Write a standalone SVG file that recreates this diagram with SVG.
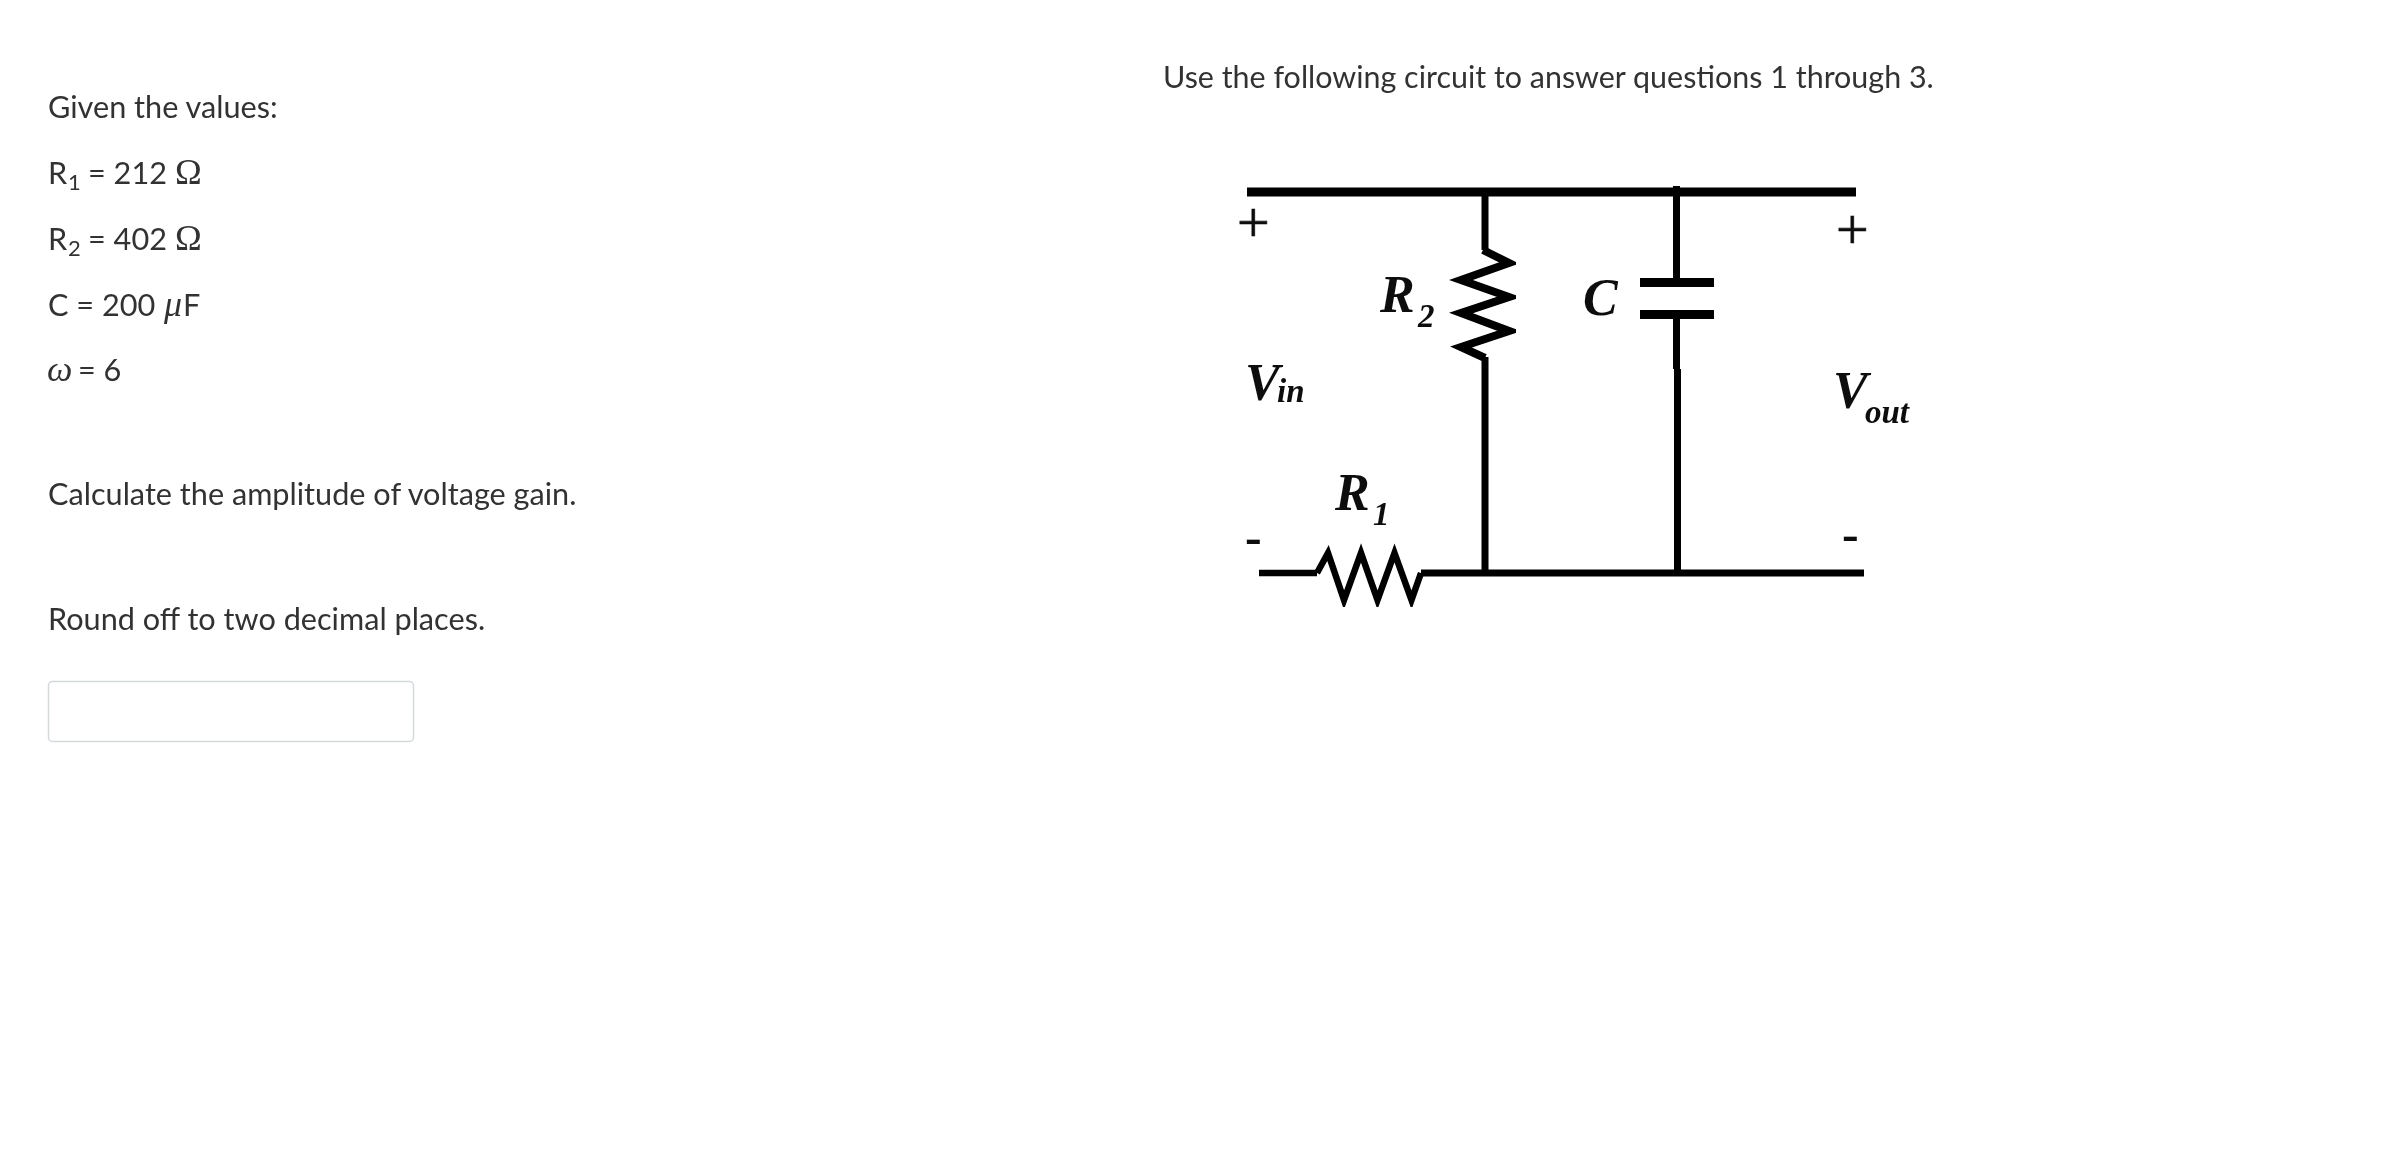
<svg xmlns="http://www.w3.org/2000/svg" width="2388" height="1155" viewBox="0 0 2388 1155">
<defs><filter id="soft" x="-5%" y="-5%" width="110%" height="110%"><feGaussianBlur stdDeviation="0.6"/></filter></defs>
<style>
.t{font-family:Lato,"Liberation Sans",sans-serif;font-size:30.65px;fill:#333}
.h{font-size:30.44px}
.s{font-family:Lato,"Liberation Sans",sans-serif;font-size:22px;fill:#333}
.m{font-family:"Liberation Serif",serif;font-size:36px;fill:#333}
.i{font-style:italic}
.w{fill:none;stroke:#000;stroke-linejoin:miter}
.l{font-family:"Liberation Serif",serif;font-style:italic;font-weight:bold;fill:#111}
.p{font-family:"Liberation Serif",serif;fill:#111}
g{filter:url(#soft)}
</style>
<rect width="2388" height="1155" fill="#fff"/>
<g id="given">
<text class="t" x="48" y="118">Given the values:</text>
<text class="t" x="48" y="184">R</text><text class="s" x="68" y="190">1</text><text class="t" x="88" y="184">= 212</text><text class="m" x="175" y="184">Ω</text>
<text class="t" x="48" y="250">R</text><text class="s" x="68" y="256">2</text><text class="t" x="88" y="250">= 402</text><text class="m" x="175" y="250">Ω</text>
<text class="t" x="48" y="316">C = 200</text><text class="m i" x="164" y="316">μ</text><text class="t" x="183" y="316">F</text>
<text class="m i" x="47" y="381">ω</text><text class="t" x="78" y="381">= 6</text>
<text class="t" x="48" y="505">Calculate the amplitude of voltage gain.</text>
<text class="t" x="48" y="630">Round off to two decimal places.</text>
</g>
<g id="answer-box"><rect x="48.500" y="681.500" width="365" height="60" rx="4" fill="#fff" stroke="#d5d9dc" stroke-width="1.500"/></g>
<g id="title"><text class="t h" x="1163" y="88">Use the following circuit to answer questions 1 through 3.</text></g>
<g id="connectors">
<path class="w" stroke-width="9" d="M1247 192H1856"/>
<path class="w" stroke-width="7" d="M1485 192V250"/>
<path class="w" stroke-width="7" d="M1485 357V573"/>
<path class="w" stroke-width="7" d="M1676.500 186V283"/>
<path class="w" stroke-width="7" d="M1676.500 314V369"/>
<path class="w" stroke-width="7" d="M1677.500 369V573"/>
<path class="w" stroke-width="7" d="M1421 573H1864"/>
<path class="w" stroke-width="6.500" d="M1259 573H1317"/>
</g>
<g id="R2"><path class="w" stroke-width="8" d="M1483 250L1509 263L1461 280L1509 297L1461 313L1509 331L1461 347L1485 358"/>
<text class="l" x="1380" y="312" font-size="52">R</text><text class="l" x="1418" y="327" font-size="33">2</text></g>
<g id="C"><rect x="1640" y="278" width="74" height="9" fill="#000"/><rect x="1640" y="310" width="74" height="9" fill="#000"/>
<text class="l" x="1583" y="315" font-size="52">C</text></g>
<g id="R1"><path class="w" stroke-width="6.500" d="M1317 573L1328 553L1344 600L1361 553L1377.500 600L1394.500 553L1411.500 600L1421 573"/>
<text class="l" x="1335" y="510" font-size="52">R</text><text class="l" x="1373" y="525" font-size="33">1</text></g>
<g id="vin"><text class="p" x="1237" y="242" font-size="58" stroke="#111" stroke-width="0.600">+</text><text class="l" x="1245" y="400" font-size="52">V</text><text class="l" x="1277" y="402" font-size="33">in</text><text class="p" x="1245" y="554" font-size="50" font-weight="bold">-</text></g>
<g id="vout"><text class="p" x="1836" y="249" font-size="58" stroke="#111" stroke-width="0.600">+</text><text class="l" x="1833" y="408" font-size="52">V</text><text class="l" x="1865" y="423" font-size="33">out</text><text class="p" x="1842" y="551" font-size="50" font-weight="bold">-</text></g>
</svg>
